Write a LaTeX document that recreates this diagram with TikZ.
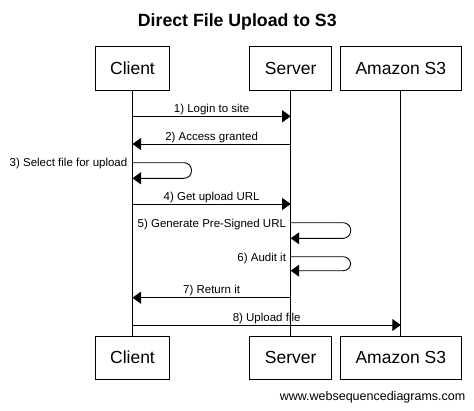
\documentclass[tikz,border=0pt]{standalone}
\usepackage{fontspec}
\setmainfont{Liberation Sans}
\usetikzlibrary{arrows.meta}
\begin{document}
\begin{tikzpicture}[x=1pt,y=-1pt,
  actor/.style={draw=black,line width=0.9pt,fill=white,inner sep=0pt,minimum height=43.3pt,font=\fontsize{17.5}{20}\selectfont},
  life/.style={line width=0.9pt},
  msg/.style={line width=0.9pt,-{Triangle[length=8.5pt,width=12pt]}},
  mlabel/.style={anchor=base,inner sep=0pt,yshift=4pt,font=\fontsize{11.5}{13}\selectfont},
  slabel/.style={anchor=base east,inner sep=0pt,font=\fontsize{11.5}{13}\selectfont},
  loop/.style={msg,rounded corners=7.5pt}]
\useasboundingbox (0,0) rectangle (474,410);
\node[anchor=base,inner sep=0pt,font=\fontsize{17.7}{20}\selectfont\bfseries] (title) at (237.3,26) {Direct File Upload to S3};
% top actors
\node[actor,minimum width=74pt] (ct) at (132.5,68.3) {Client};
\node[actor,minimum width=82pt] (st) at (290.7,68.3) {Server};
\node[actor,minimum width=121pt] (at) at (400.8,68.3) {Amazon S3};
% bottom actors
\node[actor,minimum width=74pt] (cb) at (132.5,357.7) {Client};
\node[actor,minimum width=82pt] (sb) at (290.7,357.7) {Server};
\node[actor,minimum width=121pt] (ab) at (400.8,357.7) {Amazon S3};
% lifelines
\draw[life] (ct.south) -- (cb.north);
\draw[life] (st.south) -- (sb.north);
\draw[life] (at.south) -- (ab.north);
% message rows
\coordinate (m1) at (0,116.3);
\coordinate (m2) at (0,144);
\coordinate (m3) at (0,162.7);
\coordinate (m3b) at (0,178.3);
\coordinate (m4) at (0,204);
\coordinate (m5) at (0,222.7);
\coordinate (m5b) at (0,238.3);
\coordinate (m6) at (0,256.7);
\coordinate (m6b) at (0,270.7);
\coordinate (m7) at (0,297.7);
\coordinate (m8) at (0,325);
% messages
\draw[msg] (ct |- m1) -- (st |- m1) node[mlabel,midway] {1) Login to site};
\draw[msg] (st |- m2) -- (ct |- m2) node[mlabel,midway] {2) Access granted};
\draw[loop] (ct |- m3) -- ++(59,0) -- ++(0,15.6) -- (ct |- m3b);
\node[slabel] (l3) at ([xshift=-5pt,yshift=-4pt]ct |- m3) {3) Select file for upload};
\draw[msg] (ct |- m4) -- (st |- m4) node[mlabel,midway] {4) Get upload URL};
\draw[loop] (st |- m5) -- ++(60,0) -- ++(0,15.6) -- (st |- m5b);
\node[slabel] (l5) at ([xshift=-4.5pt,yshift=-5pt]st |- m5) {5) Generate Pre-Signed URL};
\draw[loop] (st |- m6) -- ++(60,0) -- ++(0,14) -- (st |- m6b);
\node[slabel] (l6) at ([xshift=-4.5pt,yshift=-5pt]st |- m6) {6) Audit it};
\draw[msg] (st |- m7) -- (ct |- m7) node[mlabel,midway] {7) Return it};
\draw[msg] (ct |- m8) -- (at |- m8) node[mlabel,midway] {8) Upload file};
% footer
\node[anchor=base east,inner sep=0pt,font=\fontsize{12.5}{14}\selectfont] (foot) at (465.5,400.5) {www.websequencediagrams.com};
\end{tikzpicture}
\end{document}
